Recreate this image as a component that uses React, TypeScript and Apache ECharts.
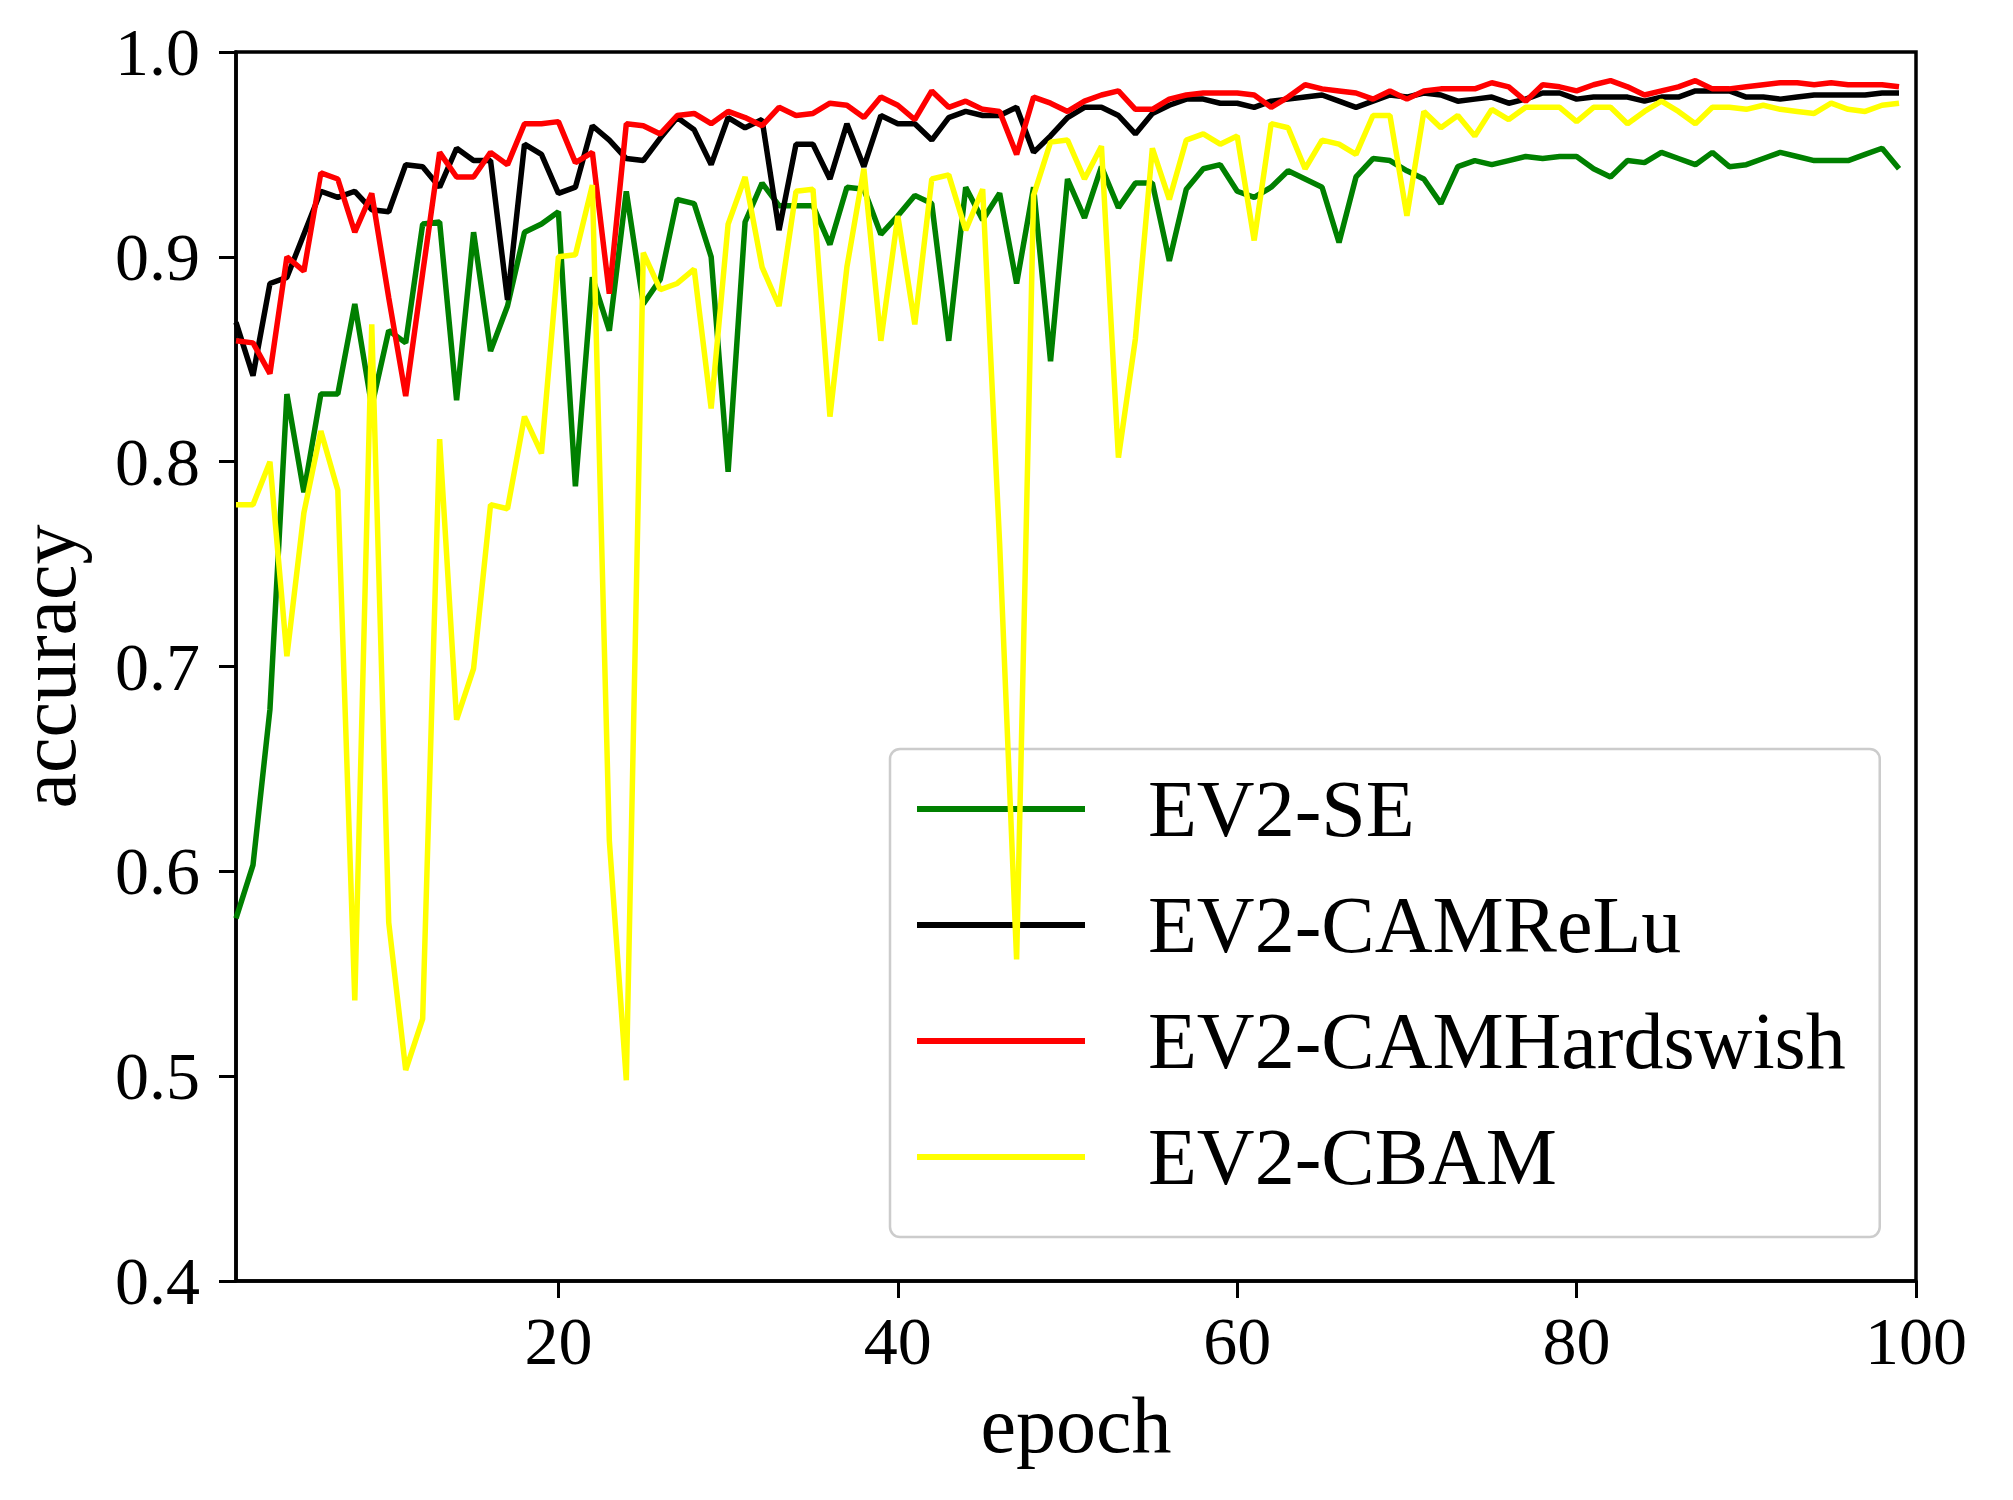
import React, { useEffect, useRef } from "react";
import * as echarts from "echarts";

const seriesNames = ["EV2-SE", "EV2-CAMReLu", "EV2-CAMHardswish", "EV2-CBAM"];
const seriesColors = ["#008000", "#000000", "#ff0000", "#ffff00"];

const xTickValues = [20, 40, 60, 80, 100];

const se = [
  0.577, 0.603, 0.679, 0.833, 0.785, 0.833, 0.833, 0.877, 0.827, 0.864,
  0.858, 0.916, 0.917, 0.830, 0.912, 0.854, 0.876, 0.912, 0.916, 0.922,
  0.788, 0.890, 0.864, 0.932, 0.877, 0.889, 0.928, 0.926, 0.900, 0.795,
  0.917, 0.936, 0.925, 0.925, 0.925, 0.906, 0.934, 0.933, 0.911, 0.920,
  0.930, 0.926, 0.859, 0.934, 0.918, 0.931, 0.887, 0.934, 0.849, 0.938,
  0.919, 0.944, 0.924, 0.936, 0.936, 0.898, 0.933, 0.943, 0.945, 0.932,
  0.929, 0.934, 0.942, 0.938, 0.934, 0.907, 0.939, 0.948, 0.947, 0.942,
  0.938, 0.926, 0.944, 0.947, 0.945, 0.947, 0.949, 0.948, 0.949, 0.949,
  0.943, 0.939, 0.947, 0.946, 0.951, 0.948, 0.945, 0.951, 0.944, 0.945,
  0.948, 0.951, 0.949, 0.947, 0.947, 0.947, 0.950, 0.953, 0.943,
];

const camRelu = [
  0.868, 0.842, 0.887, 0.890, 0.911, 0.932, 0.929, 0.932, 0.923, 0.922,
  0.945, 0.944, 0.934, 0.953, 0.947, 0.947, 0.879, 0.955, 0.950, 0.931,
  0.934, 0.964, 0.957, 0.948, 0.947, 0.958, 0.968, 0.962, 0.945, 0.968,
  0.963, 0.967, 0.913, 0.955, 0.955, 0.938, 0.965, 0.944, 0.969, 0.965,
  0.965, 0.957, 0.968, 0.971, 0.969, 0.969, 0.973, 0.951, 0.959, 0.968,
  0.973, 0.973, 0.969, 0.960, 0.970, 0.974, 0.977, 0.977, 0.975, 0.975,
  0.973, 0.976, 0.977, 0.978, 0.979, 0.976, 0.973, 0.976, 0.979, 0.978,
  0.980, 0.979, 0.976, 0.977, 0.978, 0.975, 0.977, 0.980, 0.980, 0.977,
  0.978, 0.978, 0.978, 0.976, 0.978, 0.978, 0.981, 0.981, 0.981, 0.978,
  0.978, 0.977, 0.978, 0.979, 0.979, 0.979, 0.979, 0.980, 0.980,
];

const camHardswish = [
  0.859, 0.858, 0.843, 0.900, 0.893, 0.941, 0.938, 0.912, 0.931, 0.880,
  0.832, 0.892, 0.951, 0.939, 0.939, 0.951, 0.945, 0.965, 0.965, 0.966,
  0.946, 0.951, 0.882, 0.965, 0.964, 0.960, 0.969, 0.970, 0.965, 0.971,
  0.968, 0.964, 0.973, 0.969, 0.970, 0.975, 0.974, 0.968, 0.978, 0.974,
  0.967, 0.981, 0.973, 0.976, 0.972, 0.971, 0.950, 0.978, 0.975, 0.971,
  0.976, 0.979, 0.981, 0.972, 0.972, 0.977, 0.979, 0.980, 0.980, 0.980,
  0.979, 0.973, 0.978, 0.984, 0.982, 0.981, 0.980, 0.977, 0.981, 0.977,
  0.981, 0.982, 0.982, 0.982, 0.985, 0.983, 0.976, 0.984, 0.983, 0.981,
  0.984, 0.986, 0.983, 0.979, 0.981, 0.983, 0.986, 0.982, 0.982, 0.983,
  0.984, 0.985, 0.985, 0.984, 0.985, 0.984, 0.984, 0.984, 0.983,
];

const cbam = [
  0.779, 0.779, 0.800, 0.705, 0.775, 0.815, 0.786, 0.537, 0.867, 0.575,
  0.503, 0.528, 0.811, 0.674, 0.699, 0.779, 0.777, 0.822, 0.804, 0.900,
  0.901, 0.935, 0.615, 0.498, 0.902, 0.884, 0.887, 0.894, 0.826, 0.916,
  0.939, 0.895, 0.876, 0.932, 0.933, 0.822, 0.895, 0.943, 0.859, 0.920,
  0.867, 0.938, 0.940, 0.913, 0.933, 0.760, 0.557, 0.930, 0.956, 0.957,
  0.938, 0.954, 0.802, 0.860, 0.953, 0.928, 0.957, 0.960, 0.955, 0.959,
  0.908, 0.965, 0.963, 0.943, 0.957, 0.955, 0.950, 0.969, 0.969, 0.920,
  0.971, 0.963, 0.969, 0.959, 0.972, 0.967, 0.973, 0.973, 0.973, 0.966,
  0.973, 0.973, 0.965, 0.971, 0.976, 0.971, 0.965, 0.973, 0.973, 0.972,
  0.974, 0.972, 0.971, 0.970, 0.975, 0.972, 0.971, 0.974, 0.975,
];

const allSeries = [se, camRelu, camHardswish, cbam];
const epochs = se.map((_, i) => i + 1);

const FONT = "'Liberation Serif', 'Times New Roman', serif";

export default function App() {
  const ref = useRef<HTMLDivElement>(null);

  useEffect(() => {
    if (!ref.current) return;
    const chart = echarts.init(ref.current, null, { renderer: "svg" });
    const option: any = {
      animation: false,
      backgroundColor: "#ffffff",
      grid: {
        left: 231,
        top: 52,
        width: 1685,
        height: 1229,
        show: true,
        borderColor: "#000",
        borderWidth: 3.5,
        backgroundColor: "transparent",
      },
      xAxis: {
        type: "value",
        min: 1,
        max: 100,
        name: "epoch",
        nameLocation: "middle",
        nameGap: 104,
        nameTextStyle: { fontFamily: FONT, fontSize: 80, color: "#000" },
        axisLine: { show: true, lineStyle: { color: "#000", width: 3.5 } },
        axisTick: {
          show: true,
          inside: false,
          length: 17,
          customValues: xTickValues,
          lineStyle: { color: "#000", width: 3 },
        },
        axisLabel: {
          customValues: xTickValues,
          margin: 26,
          fontFamily: FONT,
          fontSize: 68,
          color: "#000",
        },
        splitLine: { show: false },
      },
      yAxis: {
        type: "value",
        min: 0.4,
        max: 1.0,
        interval: 0.1,
        name: "accuracy",
        nameLocation: "middle",
        nameGap: 148,
        nameTextStyle: { fontFamily: FONT, fontSize: 80, color: "#000" },
        axisLine: { show: true, lineStyle: { color: "#000", width: 3.5 } },
        axisTick: {
          show: true,
          inside: false,
          length: 17,
          lineStyle: { color: "#000", width: 3 },
        },
        axisLabel: {
          margin: 36,
          fontFamily: FONT,
          fontSize: 68,
          color: "#000",
          formatter: (v: number) => v.toFixed(1),
        },
        splitLine: { show: false },
      },
      legend: {
        orient: "vertical",
        left: 890,
        top: 749,
        data: seriesNames,
        icon: "rect",
        itemWidth: 168,
        itemHeight: 6,
        itemGap: 36,
        padding: [20, 34, 40, 27],
        backgroundColor: "rgba(255,255,255,0.8)",
        borderColor: "#cccccc",
        borderWidth: 2.5,
        borderRadius: 10,
        textStyle: {
          fontFamily: FONT,
          fontSize: 80,
          color: "#000",
          padding: [0, 0, 0, 58],
          lineHeight: 80,
        },
      },
      series: seriesNames.map((name, k) => ({
        name,
        type: "line",
        data: epochs.map((e, i) => [e, allSeries[k][i]]),
        symbol: "none",
        color: seriesColors[k],
        lineStyle: { color: seriesColors[k], width: 5.5 },
        clip: true,
        z: 2 + k,
      })),
    };
    chart.setOption(option);
    return () => chart.dispose();
  }, []);

  return (
    <div
      ref={ref}
      style={{
        position: "absolute",
        left: 0,
        top: 0,
        width: 2013,
        height: 1500,
        background: "#fff",
      }}
    />
  );
}
